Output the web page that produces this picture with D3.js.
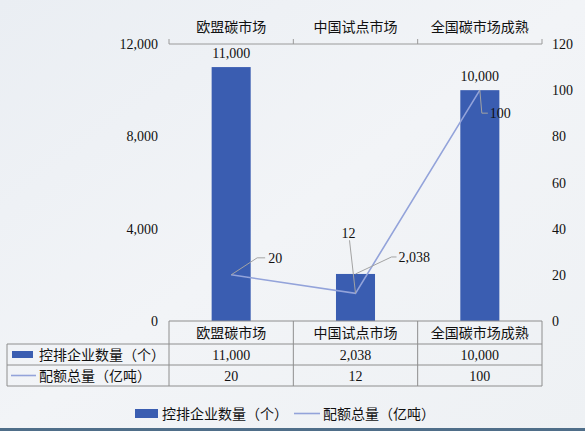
<!DOCTYPE html>
<html>
<head>
<meta charset="utf-8">
<script src="https://cdn.jsdelivr.net/npm/d3@7"></script>
<style>
  html, body { margin: 0; padding: 0; overflow: hidden; }
  svg { display: block; }
</style>
</head>
<body>
<svg id="chart"></svg>
<script>
// Data
const categories = ["欧盟碳市场", "中国试点市场", "全国碳市场成熟"];
const companies = [11000, 2038, 10000];   // 控排企业数量（个）
const quota = [20, 12, 100];              // 配额总量（亿吨）
const seriesNames = ["控排企业数量（个）", "配额总量（亿吨）"];
const leftTicks = [0, 4000, 8000, 12000];
const rightTicks = [0, 20, 40, 60, 80, 100, 120];

const width = 585, height = 431;
const barColor = "#3a5db1";
const lineColor = "#93a3da";
const gridColor = "#8e8e8e";
const numFont = "'Liberation Serif', 'Times New Roman', serif";
const cjkFont = "'Noto Sans CJK SC', sans-serif";

const svg = d3.select("#chart").attr("width", width).attr("height", height);

// background
const defs = svg.append("defs");
const grad = defs.append("linearGradient").attr("id", "bg")
  .attr("x1", "0").attr("y1", "0").attr("x2", "1").attr("y2", "1");
grad.append("stop").attr("offset", "0").attr("stop-color", "#eaeef3");
grad.append("stop").attr("offset", "0.5").attr("stop-color", "#f2f4f7");
grad.append("stop").attr("offset", "1").attr("stop-color", "#eef1f4");
svg.append("rect").attr("width", width).attr("height", height).attr("fill", "url(#bg)");
svg.append("rect").attr("y", 428).attr("width", width).attr("height", 3).attr("fill", "#4f6e89");

// Scales
const plotLeft = 169, plotRight = 542, plotTop = 44, plotBottom = 321;
const x = d3.scaleBand().domain(categories).range([plotLeft, plotRight])
  .paddingInner(0.686).paddingOuter(0.343);
const xc = d => x(d) + x.bandwidth() / 2;
const step = x.step();
const yL = d3.scaleLinear().domain([0, 12000]).range([plotBottom, plotTop]);
const yR = d3.scaleLinear().domain([0, 120]).range([plotBottom, plotTop]);

// Left axis labels
svg.append("g").selectAll("text").data(leftTicks).join("text")
  .attr("x", 158).attr("y", d => yL(d) + 5)
  .attr("text-anchor", "end")
  .attr("font-family", numFont).attr("font-size", 14).attr("fill", "#111")
  .text(d3.format(","));

// Right axis labels
svg.append("g").selectAll("text").data(rightTicks).join("text")
  .attr("x", 552).attr("y", d => yR(d) + 5)
  .attr("font-family", numFont).attr("font-size", 14).attr("fill", "#111")
  .text(d => d);

// Top category axis
const topAxis = svg.append("g");
topAxis.append("line")
  .attr("x1", plotLeft).attr("x2", plotRight).attr("y1", plotTop).attr("y2", plotTop)
  .attr("stroke", "#9a9a9a");
const bounds = categories.map(c => xc(c) - step / 2).concat([plotRight]);
topAxis.selectAll(".tk").data(bounds).join("line").attr("class", "tk")
  .attr("x1", d => d).attr("x2", d => d).attr("y1", plotTop).attr("y2", plotTop - 5)
  .attr("stroke", "#9a9a9a");
topAxis.selectAll("text").data(categories).join("text")
  .attr("x", d => xc(d)).attr("y", 32)
  .attr("text-anchor", "middle")
  .attr("font-family", cjkFont).attr("font-size", 14).attr("fill", "#111")
  .text(d => d);

// Bars
svg.append("g").selectAll("rect").data(categories).join("rect")
  .attr("x", d => x(d)).attr("width", x.bandwidth())
  .attr("y", (d, i) => yL(companies[i]))
  .attr("height", (d, i) => yL(0) - yL(companies[i]))
  .attr("fill", barColor);

// Line
const line = d3.line().x(d => xc(d.c)).y(d => yR(d.v));
const linePts = categories.map((c, i) => ({ c, v: quota[i] }));
svg.append("path").datum(linePts)
  .attr("d", line).attr("fill", "none")
  .attr("stroke", lineColor).attr("stroke-width", 1.6);

// Data labels and leader lines
const labels = svg.append("g")
  .attr("font-family", numFont).attr("font-size", 14).attr("fill", "#111");
const leader = pts => labels.append("polyline")
  .attr("points", pts.map(p => p.join(",")).join(" "))
  .attr("fill", "none").attr("stroke", "#a3a3a3").attr("stroke-width", 1);

// bar labels
const fmt = d3.format(",");
labels.append("text").attr("x", xc(categories[0])).attr("y", yL(companies[0]) - 9)
  .attr("text-anchor", "middle").text(fmt(companies[0]));
labels.append("text").attr("x", xc(categories[2])).attr("y", yL(companies[2]) - 9)
  .attr("text-anchor", "middle").text(fmt(companies[2]));
{
  const cx = xc(categories[1]), cy = yL(companies[1]);
  leader([[cx, cy], [cx + 36, cy - 17], [cx + 41, cy - 17]]);
  labels.append("text").attr("x", cx + 43).attr("y", cy - 12).text(fmt(companies[1]));
}

// line labels
{
  const cx = xc(categories[0]), cy = yR(quota[0]);
  leader([[cx, cy], [cx + 26, cy - 17], [cx + 34, cy - 17]]);
  labels.append("text").attr("x", cx + 37).attr("y", cy - 12).text(quota[0]);
}
{
  const cx = xc(categories[1]), cy = yR(quota[1]);
  leader([[cx, cy], [cx - 6, cy - 53]]);
  labels.append("text").attr("x", cx - 7).attr("y", cy - 55)
    .attr("text-anchor", "middle").text(quota[1]);
}
{
  const cx = xc(categories[2]), cy = yR(quota[2]);
  leader([[cx, cy], [cx + 2, cy + 23], [cx + 8, cy + 23]]);
  labels.append("text").attr("x", cx + 10).attr("y", cy + 28).text(quota[2]);
}

// Data table
const tableLeft = 7;
const rowTops = [321, 344, 365, 386];
const table = svg.append("g");
const colEdges = bounds;
// header row lines
table.append("line").attr("x1", plotLeft).attr("x2", plotRight)
  .attr("y1", rowTops[0]).attr("y2", rowTops[0]).attr("stroke", gridColor);
[1, 2, 3].forEach(r => {
  table.append("line").attr("x1", tableLeft).attr("x2", plotRight)
    .attr("y1", rowTops[r]).attr("y2", rowTops[r]).attr("stroke", gridColor);
});
colEdges.forEach(xe => {
  table.append("line").attr("x1", xe).attr("x2", xe)
    .attr("y1", rowTops[0]).attr("y2", rowTops[3]).attr("stroke", gridColor);
});
table.append("line").attr("x1", tableLeft).attr("x2", tableLeft)
  .attr("y1", rowTops[1]).attr("y2", rowTops[3]).attr("stroke", gridColor);

table.selectAll(".hdr").data(categories).join("text").attr("class", "hdr")
  .attr("x", d => xc(d)).attr("y", rowTops[0] + 17)
  .attr("text-anchor", "middle")
  .attr("font-family", cjkFont).attr("font-size", 14).attr("fill", "#111")
  .text(d => d);

table.selectAll(".r1").data(companies).join("text").attr("class", "r1")
  .attr("x", (d, i) => xc(categories[i])).attr("y", rowTops[1] + 16)
  .attr("text-anchor", "middle")
  .attr("font-family", numFont).attr("font-size", 14).attr("fill", "#111")
  .text(fmt);
table.selectAll(".r2").data(quota).join("text").attr("class", "r2")
  .attr("x", (d, i) => xc(categories[i])).attr("y", rowTops[2] + 16)
  .attr("text-anchor", "middle")
  .attr("font-family", numFont).attr("font-size", 14).attr("fill", "#111")
  .text(d => d);

// table row keys
table.append("rect").attr("x", 12).attr("y", 351).attr("width", 21).attr("height", 7)
  .attr("fill", barColor);
table.append("line").attr("x1", 11).attr("x2", 36).attr("y1", 375.5).attr("y2", 375.5)
  .attr("stroke", lineColor).attr("stroke-width", 1.6);
table.selectAll(".rk").data(seriesNames).join("text").attr("class", "rk")
  .attr("x", 39).attr("y", (d, i) => rowTops[i + 1] + 16)
  .attr("font-family", cjkFont).attr("font-size", 14).attr("fill", "#111")
  .text(d => d);

// Bottom legend
const legend = svg.append("g");
legend.append("rect").attr("x", 135).attr("y", 409).attr("width", 23).attr("height", 9)
  .attr("fill", barColor);
legend.append("text").attr("x", 162).attr("y", 418.5)
  .attr("font-family", cjkFont).attr("font-size", 14).attr("fill", "#111")
  .text(seriesNames[0]);
legend.append("line").attr("x1", 294).attr("x2", 320).attr("y1", 413.5).attr("y2", 413.5)
  .attr("stroke", lineColor).attr("stroke-width", 1.6);
legend.append("text").attr("x", 323).attr("y", 418.5)
  .attr("font-family", cjkFont).attr("font-size", 14).attr("fill", "#111")
  .text(seriesNames[1]);
</script>
</body>
</html>
